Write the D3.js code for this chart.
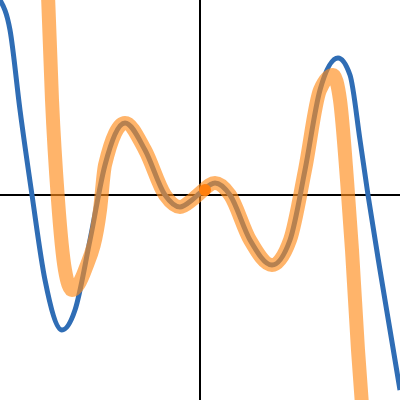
<!DOCTYPE html><html><head><script src="https://d3js.org/d3.v7.min.js"></script>
<style>body{margin:0}</style></head><body><svg width="400" height="400"></svg>
<script>
const blueX=[-10,-9.5,-9,-8.4,-7.75,-6.9,-6.25,-5.5,-4.75,-3.75,-2.75,-1.75,-1,-0.4,0,0.75,1.5,2.5,3.6,4.5,5.25,6,6.9,7.5,8,8.4,9,9.5,10];
const blueY=[9.75,8.25,4.25,0,-4.25,-6.75,-5.75,-2.25,1.5,3.6,2.25,0,-0.6,-0.25,0.1,0.6,0,-2.25,-3.5,-2.25,1.25,5.25,6.85,6,2.75,0,-3.75,-6.75,-9.75];
const orangeX=[-7.6,-7.4,-7.1,-6.75,-6.4,-5.75,-5,-4.75,-3.75,-2.75,-1.75,-1,-0.4,0,0.75,1.5,2.5,3.6,4.5,5.25,6,6.65,7,7.35,7.6,7.9,8.1];
const orangeY=[10,4.75,-0.25,-3.75,-4.75,-3.75,-0.75,1.5,3.6,2.25,0,-0.6,-0.25,0.1,0.6,0,-2.25,-3.5,-2.25,1.25,5.25,6,4.75,0.75,-2.75,-7.75,-10.5];
const svg=d3.select("svg");
const x=d3.scaleLinear().domain([-10,10]).range([0,400]);
const y=d3.scaleLinear().domain([-10,10]).range([395,-5]);
svg.append("line").attr("x1",0).attr("x2",400).attr("y1",y(0)).attr("y2",y(0)).attr("stroke","#000").attr("stroke-width",2);
svg.append("line").attr("x1",x(0)).attr("x2",x(0)).attr("y1",0).attr("y2",400).attr("stroke","#000").attr("stroke-width",2);
const line=d3.line().x(d=>x(d[0])).y(d=>y(d[1])).curve(d3.curveMonotoneX);
svg.append("path").attr("d",line(d3.zip(blueX,blueY))).attr("fill","none").attr("stroke","#2f6db5").attr("stroke-width",5);
svg.append("path").attr("d",line(d3.zip(orangeX,orangeY))).attr("fill","none").attr("stroke","#ff8c1a").attr("stroke-opacity",0.65).attr("stroke-width",14);
svg.append("circle").attr("cx",x(0.25)).attr("cy",y(0.25)).attr("r",6).attr("fill","#ff7f0e");
</script></body></html>
